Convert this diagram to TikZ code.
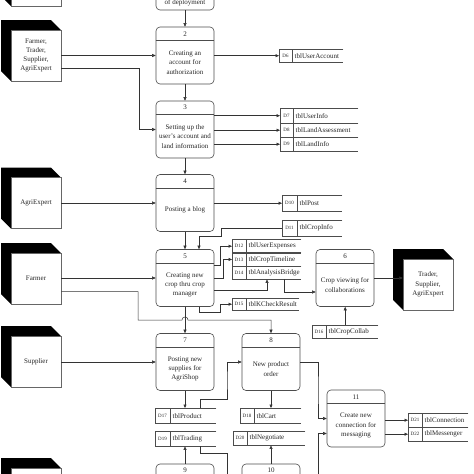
\documentclass[tikz,border=0pt]{standalone}
\usepackage{fontspec}
\setmainfont{Liberation Serif}
\usetikzlibrary{arrows.meta,calc}
\tikzset{
 x=1pt,y=-1pt,
 ln/.style={draw=black!80, line width=0.5pt},
 arr/.style={ln, -{Triangle[length=3.5pt,width=3pt]}},
 bord/.style={draw=black!70, line width=0.6pt},
 proc/.style={bord, rounded corners=4pt, minimum width=58pt, minimum height=57pt, inner sep=0pt},
 ent/.style={draw=black!60, fill=white, line width=0.5pt, minimum width=50pt, minimum height=51pt, inner sep=0pt, align=center, font=\fontsize{7}{9.3}\selectfont, text=black!85},
 txt/.style={inner sep=0pt, align=center, font=\fontsize{7}{9.3}\selectfont, text=black!85},
 sid/.style={inner sep=0pt, font=\fontsize{5}{6}\selectfont, text=black!85},
 slab/.style={inner sep=0pt, anchor=west, font=\fontsize{7}{8}\selectfont, text=black!85},
 stbox/.style={inner sep=0pt, draw=none},
}
\newcommand{\myent}[4]{%
 \fill[black] (#2-35,#3-35.5) -- (#2+15,#3-35.5) -- (#2+25,#3-25.5) -- (#2+25,#3+25.5) -- (#2-25,#3+25.5) -- (#2-35,#3+15.5) -- cycle;
 \node[ent] (#1) at (#2,#3) {#4};}
\newcommand{\myproc}[5]{%
 \node[proc] (#1) at (#2,#3) {};
 \draw[bord] ([yshift=-14pt]#1.north west) -- ([yshift=-14pt]#1.north east);
 \node[txt] (#1n) at ([yshift=-7pt]#1.north) {#4};
 \node[txt] (#1t) at ([yshift=-7pt]#1.center) {#5};}
\newcommand{\mystore}[8]{%
 \node[stbox, minimum width=#4pt, minimum height=#5pt, anchor=north west] (#1) at (#2,#3) {};
 \draw[bord] (#1.north east) -- (#1.north west) -- (#1.south west) -- (#1.south east);
 \draw[bord] ([xshift=#6pt]#1.north west) -- ([xshift=#6pt]#1.south west);
 \node[sid] (#1i) at ($(#1.west)+(#6/2,0)$) {#7};
 \node[slab, xshift=2.5pt] (#1l) at ([xshift=#6pt]#1.west) {#8};}
\begin{document}
\begin{tikzpicture}
\useasboundingbox (0,0) rectangle (474,474);
\clip (0,0) rectangle (474,474);
% external entities
\myent{E1}{36}{-19.5}{}
\myent{E2}{36}{55.5}{Farmer,\\Trader,\\Supplier,\\AgriExpert}
\myent{E3}{36}{203}{AgriExpert}
\myent{E4}{36}{278.5}{Farmer}
\myent{E5}{36}{361.5}{Supplier}
\myent{E6}{36}{493.5}{}
\myent{E7}{428}{284.5}{Trader,\\Supplier,\\AgriExpert}
% processes
\node[proc] (P1) at (185,-18.5) {};
\node[txt] (P1t) at (185,2.5) {of deployment};
\myproc{P2}{185}{55.5}{2}{Creating an\\account for\\authorization}
\myproc{P3}{185}{129.5}{3}{Setting up the\\user's account and\\land information}
\myproc{P4}{185}{203}{4}{Posting a blog}
\myproc{P5}{185}{278}{5}{Creating new\\crop thru crop\\manager}
\myproc{P6}{345}{278}{6}{Crop viewing for\\collaborations}
\myproc{P7}{185}{362}{7}{Posting new\\supplies for\\AgriShop}
\myproc{P8}{271}{362}{8}{New product\\order}
\myproc{P11}{356}{418.5}{11}{Create new\\connection for\\messaging}
\myproc{P9}{185}{492.5}{9}{}
\myproc{P10}{271}{492.5}{10}{}
% data stores
\mystore{D6}{279}{49}{64}{13}{13}{D6}{tblUserAccount}
\mystore{D7}{280}{108}{78}{15}{13}{D7}{tblUserInfo}
\mystore{D8}{280}{123}{78}{14}{13}{D8}{tblLandAssessment}
\mystore{D9}{280}{137}{78}{14}{13}{D9}{tblLandInfo}
\mystore{D10}{282}{195}{60}{16}{15}{D10}{tblPost}
\mystore{D11}{282}{220}{60}{16}{15}{D11}{tblCropInfo}
\mystore{D12}{232}{239.5}{69}{13}{14}{D12}{tblUserExpenses}
\mystore{D13}{232}{252.5}{69}{13.5}{14}{D13}{tblCropTimeline}
\mystore{D14}{232}{266}{69}{13}{14}{D14}{tblAnalysisBridge}
\mystore{D15}{232}{298}{67}{12}{14}{D15}{tblKCheckResult}
\mystore{D16}{312}{325}{66}{13}{14}{D16}{tblCropCollab}
\mystore{D17}{155}{408}{61}{15}{15}{D17}{tblProduct}
\mystore{D19}{155}{431}{61}{15}{15}{D19}{tblTrading}
\mystore{D18}{240}{408}{61}{15}{14}{D18}{tblCart}
\mystore{D20}{233}{431}{72}{14}{14}{D20}{tblNegotiate}
\mystore{D21}{408}{413}{60}{14}{14}{D21}{tblConnection}
\mystore{D22}{408}{427}{60}{14}{14}{D22}{tblMessenger}
% bend coordinates
\coordinate (c1) at (139,68);
\coordinate (k1) at (221,236);
\coordinate (c2) at (138,320);
\coordinate (h1) at (182,320);
\coordinate (h2) at (188,320);
\coordinate (c3) at (227,380);
\coordinate (c4) at (318,390);
\coordinate (c5) at (318,480);
\coordinate (c6) at (227,480);
% connectors
\draw[arr] (P1.south) -- (P2.north);
\draw[arr] (P2.south) -- (P3.north);
\draw[arr] (P3.south) -- (P4.north);
\draw[arr] (P4.south) -- (P5.north);
\draw[arr] (P5.south) -- (P7.north);
\draw[arr] (E2.east |- P2.west) -- (P2.west);
\draw[arr] (E2.east |- c1) -- (c1) |- (P3.west);
\draw[arr] (P2.east |- D6.west) -- (D6.west);
\draw[arr] (P3.east |- D7.west) -- (D7.west);
\draw[arr] (P3.east |- D8.west) -- (D8.west);
\draw[arr] (P3.east |- D9.west) -- (D9.west);
\draw[arr] (E3.east |- P4.west) -- (P4.west);
\draw[arr] (P4.east |- D10.west) -- (D10.west);
\draw[arr] (D11.west) -| (k1) -| ([xshift=14pt]P5.north);
\draw[arr] ([yshift=13pt]P5.east) -| ([xshift=-12pt]D12.west) -- (D12.west);
\draw[arr] (P5.east) -| ([xshift=-9pt]D13.west) -- (D13.west);
\draw[arr] ([yshift=-12pt]P5.east) -| ([xshift=35pt]D14.south west);
\draw[arr] ([xshift=52pt]D14.south west) |- ([yshift=-14pt]P6.west);
\draw[arr] ([xshift=14pt]P5.south) -- ++(0,5) -| ([xshift=-12pt]D15.west) -- (D15.west);
\draw[arr] (E4.east |- P5.west) -- (P5.west);
\draw[arr] ([yshift=-13pt]E4.east) -| (c2) -- (h1) .. controls (182,316) and (188,316) .. (h2) -| (P8.north);
\draw[arr] (P6.east) -- (P6.east -| E7.west);
\draw[arr] (D16.north) -- (D16.north |- P6.south);
\draw[arr] (E5.east |- P7.west) -- (P7.west);
\draw[arr] (P7.south) -- (P7.south |- D17.north);
\draw[arr] ([xshift=45pt]D17.north west) -- ++(0,-9) -| (c3) |- (P8.west);
\draw[arr] (P8.south) -- (P8.south |- D18.north);
\draw[arr] (P8.east) -| (c4) |- (P11.west);
\draw[arr] (c5) |- ([yshift=-15pt]P11.west);
\draw[arr] (P11.east |- D21.west) -- (D21.west);
\draw[arr] (P11.east |- D22.west) -- (D22.west);
\draw[arr] (P9.north) -- (P9.north |- D19.south);
\draw[ln] ([xshift=45pt]D19.south west) -- ++(0,7) -| (c6);
\draw[arr] (P10.north) -- (P10.north |- D20.south);
\end{tikzpicture}
\end{document}
